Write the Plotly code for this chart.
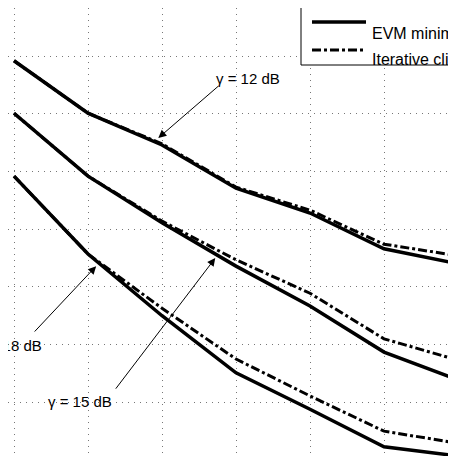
import plotly.graph_objects as go

x = [0, 1, 2, 3, 4, 5, 6]
evm_12 = [6.92, 6.01, 5.46, 4.71, 4.28, 3.66, 3.40]
icf_12 = [6.92, 6.01, 5.48, 4.73, 4.33, 3.74, 3.54]
evm_15 = [6.01, 4.92, 4.11, 3.36, 2.67, 1.87, 1.39]
icf_15 = [6.01, 4.92, 4.14, 3.47, 2.89, 2.10, 1.73]
evm_18 = [4.92, 3.57, 2.50, 1.51, 0.88, 0.23, 0.07]
icf_18 = [4.92, 3.57, 2.63, 1.75, 1.11, 0.50, 0.29]

fig = go.Figure()
for evm, icf in [(evm_12, icf_12), (evm_15, icf_15), (evm_18, icf_18)]:
    fig.add_scatter(x=x, y=icf, mode='lines', line=dict(color='black', width=3, dash='dashdot'))
    fig.add_scatter(x=x, y=evm, mode='lines', line=dict(color='black', width=3.5))

font = dict(family="Liberation Sans, Arial", size=15, color='black')
legfont = dict(family="Liberation Sans, Arial", size=16, color='black')

def label(text, tx, ty, hx, hy, tailx, taily, anchor='center'):
    fig.add_annotation(x=tx, y=ty, text=text, showarrow=False, font=font, xanchor=anchor)
    fig.add_annotation(x=hx, y=hy, ax=tailx, ay=taily, axref='x', ayref='y', text='',
                       showarrow=True, arrowhead=2, arrowsize=1.6, arrowwidth=1, arrowcolor='black')

label("γ = 12 dB", 3.16, 6.62, 1.95, 5.58, 2.78, 6.50)
label("γ = 15 dB", 0.89, 1.02, 2.72, 3.50, 1.36, 1.21)
label("γ = 18 dB", 0.40, 1.98, 1.11, 3.36, 0.26, 2.20, anchor='right')

# legend box, cut by the frame edge as in the picture
fig.add_shape(type='rect', xref='paper', yref='paper', x0=293/456, x1=1.2, y0=1 - 57/456, y1=1.01,
              line=dict(color='black', width=1), fillcolor='white', layer='above')
fig.add_shape(type='line', xref='paper', yref='paper', x0=304/456, x1=358/456, y0=1 - 14/456, y1=1 - 14/456,
              line=dict(color='black', width=3.5), layer='above')
fig.add_shape(type='line', xref='paper', yref='paper', x0=304/456, x1=358/456, y0=1 - 42/456, y1=1 - 42/456,
              line=dict(color='black', width=3, dash='dashdot'), layer='above')
fig.add_annotation(xref='paper', yref='paper', x=362/456, y=1 - 15/456, text="EVM minimization",
                   showarrow=False, xanchor='left', font=legfont)
fig.add_annotation(xref='paper', yref='paper', x=362/456, y=1 - 41/456, text="Iterative clipping and filtering",
                   showarrow=False, xanchor='left', font=legfont)

grid = dict(showgrid=True, gridcolor='#777', griddash='1px,5px', gridwidth=1, zeroline=False,
            showticklabels=False, showline=False)
fig.update_xaxes(range=[-6/74, 450/74], dtick=1, ticks='inside', ticklen=4, tickcolor='black', **grid)
fig.update_yaxes(range=[-4/57.7, 452/57.7], dtick=1, ticks='', **grid)
fig.update_layout(width=456, height=456, margin=dict(l=0, r=0, t=0, b=0), showlegend=False,
                  plot_bgcolor='white', paper_bgcolor='white')
fig.write_html("out.html")
